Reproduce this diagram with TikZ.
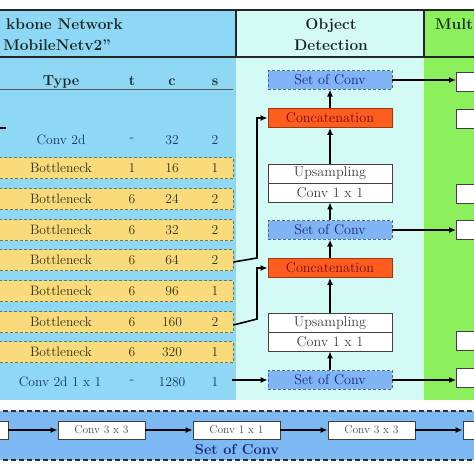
\documentclass[tikz,border=0pt]{standalone}
\usepackage{fontspec}
\usetikzlibrary{arrows.meta}
\definecolor{leftbg}{HTML}{8FD8F5}
\definecolor{midbg}{HTML}{D4FAF6}
\definecolor{greenbg}{HTML}{8CF05C}
\definecolor{yel}{HTML}{FADB7C}
\definecolor{yelborder}{HTML}{6E7A50}
\definecolor{navy}{HTML}{163262}
\definecolor{olive}{HTML}{34300E}
\definecolor{setfill}{HTML}{80B4F4}
\definecolor{setborder}{HTML}{4A6A9A}
\definecolor{settext}{HTML}{18267A}
\definecolor{concfill}{HTML}{FF5C20}
\definecolor{concborder}{HTML}{9A3A10}
\definecolor{conctext}{HTML}{700E0E}
\definecolor{botfill}{HTML}{7CB8F2}
\definecolor{boxline}{HTML}{404040}
\definecolor{hdrtext}{HTML}{1A2626}
\newcommand\tabfnt{\fontsize{13.6}{15}\selectfont}
\newcommand\boxfnt{\fontsize{14.2}{16}\selectfont}
\newcommand\hdrfnt{\fontsize{15.5}{18}\selectfont\bfseries}
\tikzset{
  arr/.style={line width=1.6pt, -{Latex[length=7pt,width=6pt]}},
  bneck/.style={draw=yelborder, fill=yel, dashed, dash pattern=on 3pt off 2pt, line width=0.8pt,
    minimum width=238pt, minimum height=21pt, inner sep=0pt},
  setconv/.style={draw=setborder, fill=setfill, densely dashed, line width=0.7pt,
    minimum width=124pt, minimum height=18.5pt, inner sep=0pt, text=settext, font=\boxfnt},
  concat/.style={draw=concborder, fill=concfill, line width=0.8pt,
    minimum width=124pt, minimum height=19pt, inner sep=0pt, text=conctext, font=\boxfnt},
  wbox/.style={draw=boxline, fill=white, line width=0.8pt,
    minimum width=124pt, minimum height=19pt, inner sep=0pt, text=black!75, font=\boxfnt},
  gbox/.style={draw=boxline, fill=white, line width=0.9pt,
    minimum width=40pt, minimum height=19pt, inner sep=0pt, anchor=west},
  cbox/.style={draw=boxline, fill=white, line width=0.8pt,
    minimum width=87pt, minimum height=18pt, inner sep=0pt, text=black!70,
    font=\fontsize{11.5}{13}\selectfont},
  bt/.style={text=olive, font=\tabfnt, inner sep=0pt},
  nt/.style={text=navy, font=\tabfnt, inner sep=0pt},
  th/.style={text=hdrtext, font=\fontsize{14.5}{16}\selectfont\bfseries, inner sep=0pt, anchor=base},
  hd/.style={text=hdrtext, font=\hdrfnt, inner sep=0pt}
}
\begin{document}
\begin{tikzpicture}[x=1pt,y=-1pt]
\useasboundingbox (0,0) rectangle (474,474);
\clip (0,0) rectangle (474,474);
\fill[white] (0,0) rectangle (474,474);
% panels
\fill[leftbg] (-5,10) rectangle (236,400);
\fill[midbg] (236,10) rectangle (424,400);
\fill[greenbg] (424,10) rectangle (480,400);
% header frame
\draw[line width=1.4pt, black!85] (-5,10) -- (480,10);
\draw[line width=1.4pt, black!85] (-5,57) -- (480,57);
\draw[line width=1.4pt, black!85] (236,10) -- (236,57);
\draw[line width=1.4pt, black!85] (424,10) -- (424,57);
% header texts
\node[hd, anchor=base east] (h1) at (123,29) {kbone Network};
\node[hd, anchor=base east] (h2) at (111,50) {MobileNetv2”};
\node[hd, anchor=base] (h3) at (331,29) {Object};
\node[hd, anchor=base] (h4) at (331,50) {Detection};
\node[hd, anchor=base west] (h5) at (435,29) {Mult};
% table head
\node[th] (tt) at (61,85) {Type};
\node[th] (tth) at (132,85) {t};
\node[th] (tc) at (172,85) {c};
\node[th] (ts) at (215,85) {s};
\draw[line width=0.6pt, black!65] (-2,89) -- (233,89);
% input stub
\coordinate (in0) at (-3,128);
\coordinate (in1) at (6,128);
\draw[line width=1.4pt] (in0) -- (in1);
% Conv 2d row
\node[nt] (r0a) at (61,140) {Conv 2d};
\node[nt] (r0b) at (132,140) {-};
\node[nt] (r0c) at (172,140) {32};
\node[nt] (r0d) at (215,140) {2};
% bottleneck rows
\foreach \i/\y/\t/\c/\s in {1/168/1/16/1, 2/199/6/24/2, 3/230/6/32/2, 4/260/6/64/2, 5/291/6/96/1, 6/322/6/160/2, 7/352/6/320/1}{
  \node[bneck] (bk\i) at (114,\y) {};
  \node[bt] (bk\i a) at (61,\y) {Bottleneck};
  \node[bt] (bk\i b) at (132,\y) {\t};
  \node[bt] (bk\i c) at (172,\y) {\c};
  \node[bt] (bk\i d) at (215,\y) {\s};
}
% Conv 2d 1x1 row
\node[nt] (r8a) at (60,382) {Conv 2d 1 x 1};
\node[nt] (r8b) at (132,382) {-};
\node[nt] (r8c) at (172,382) {1280};
\node[nt] (r8d) at (215,382) {1};
\coordinate (c11) at (232,380);
% middle column
\node[setconv] (sc1) at (330,80) {Set of Conv};
\node[concat] (cc1) at (330,118) {Concatenation};
\node[wbox] (up1) at (330,173.5) {Upsampling};
\node[wbox] (cv1) at (330,192.5) {Conv 1 x 1};
\node[setconv] (sc2) at (330,230) {Set of Conv};
\node[concat] (cc2) at (330,268) {Concatenation};
\node[wbox] (up2) at (330,323) {Upsampling};
\node[wbox] (cv2) at (330,341.5) {Conv 1 x 1};
\node[setconv] (sc3) at (330,380) {Set of Conv};
% green column boxes
\node[gbox] (g1) at (456,81.5) {};
\node[gbox] (g2) at (456,118.5) {};
\node[gbox] (g3) at (456,193.5) {};
\node[gbox] (g4) at (456,230) {};
\node[gbox] (g5) at (456,340.5) {};
\node[gbox] (g6) at (456,378) {};
% vertical arrows
\draw[arr] (cc1.north) -- (sc1.south);
\draw[arr] (up1.north) -- (cc1.south);
\draw[arr] (sc2.north) -- (cv1.south);
\draw[arr] (cc2.north) -- (sc2.south);
\draw[arr] (up2.north) -- (cc2.south);
\draw[arr] (sc3.north) -- (cv2.south);
% skip connections
\draw[arr] ([yshift=-2pt]bk4.east) -- (257,258) |- (cc1.west);
\draw[arr] ([yshift=-3pt]bk6.east) -- (257,319) |- (cc2.west);
\draw[arr] (c11) -- (sc3.west);
% outputs
\draw[arr] (sc1.east) -- (sc1.east -| g1.west);
\draw[arr] (sc2.east) -- (sc2.east -| g4.west);
\draw[arr] (sc3.east) -- (sc3.east -| g6.west);
% bottom set of conv legend
\fill[botfill] (-5,411) rectangle (480,460);
\draw[line width=1.3pt, black!80, dash pattern=on 5pt off 3pt] (-5,411) -- (480,411);
\draw[line width=1.3pt, black!80, dash pattern=on 5pt off 3pt] (-5,460) -- (480,460);
\node[cbox, minimum width=48pt] (k0) at (-16,430) {};
\node[cbox] (k1) at (101.5,430) {Conv 3 x 3};
\node[cbox] (k2) at (236.5,430) {Conv 1 x 1};
\node[cbox] (k3) at (371.5,430) {Conv 3 x 3};
\node[cbox, minimum width=48pt] (k4) at (487,430) {};
\draw[arr] (k0) -- (k1);
\draw[arr] (k1) -- (k2);
\draw[arr] (k2) -- (k3);
\draw[arr] (k3) -- (k4);
\node[text=settext, font=\fontsize{14.5}{16}\selectfont\bfseries, inner sep=0pt] (lg) at (237,450) {Set of Conv};
\end{tikzpicture}
\end{document}
